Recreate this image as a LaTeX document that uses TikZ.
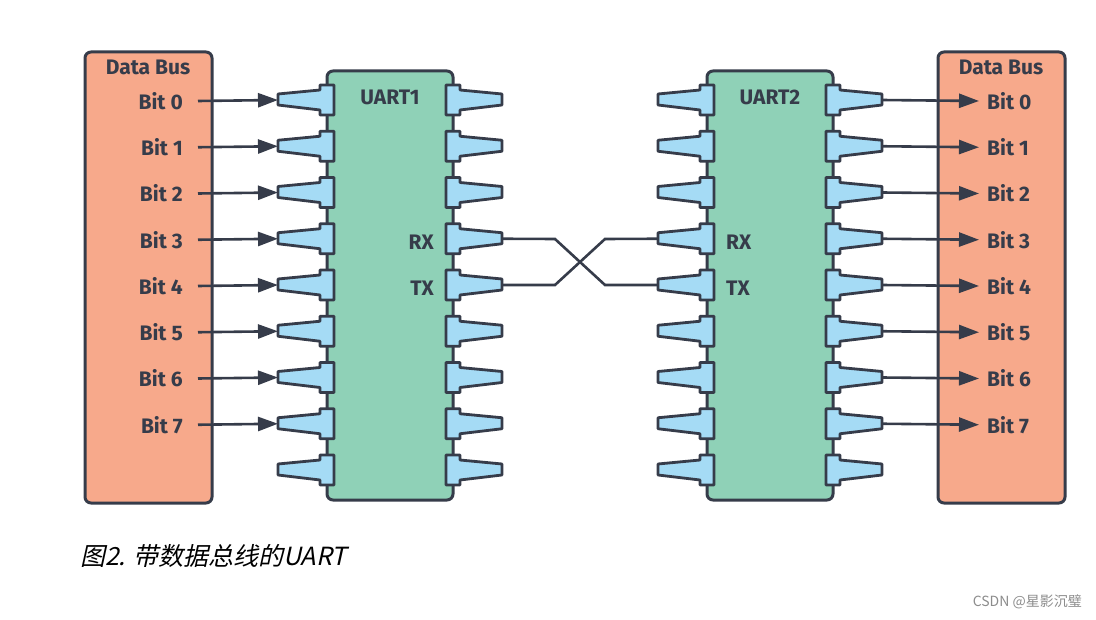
\documentclass[tikz,border=0pt]{standalone}
\usepackage{fontspec}
\setmainfont{Fira Sans}
\newfontfamily\cjk{Noto Sans CJK SC}
\usetikzlibrary{arrows.meta}
\definecolor{busorange}{HTML}{F7A98B}
\definecolor{chipgreen}{HTML}{8FD1B7}
\definecolor{pinblue}{HTML}{A5DBF5}
\definecolor{ink}{HTML}{363C4A}
\tikzset{
  bus/.style={draw=ink, line width=3pt, fill=busorange, rounded corners=6pt},
  chip/.style={draw=ink, line width=3pt, fill=chipgreen, rounded corners=6pt},
  lbl/.style={text=ink, font=\bfseries\fontsize{21}{21}\selectfont, inner sep=0pt},
  wire/.style={draw=ink, line width=2.6pt},
  sig/.style={wire, -{Triangle[length=20pt, width=14pt]}},
  pin/.pic={
    \draw[draw=ink, line width=2.8pt, fill=pinblue, line join=round]
      (7,-15) -- (7,15) -- (-7,15) -- (-7,10) -- (-49,5) -- (-49,-6) -- (-7,-10) -- (-7,-15) -- cycle;
    \coordinate (-tip) at (-49,0);
  }
}
\begin{document}
\begin{tikzpicture}[x=1pt, y=-1pt]
  \useasboundingbox (0,0) rectangle (1096,620);

  % Data buses and chips
  \draw[bus] (85,52) rectangle (212,503);
  \draw[bus] (938,52) rectangle (1065,503);
  \draw[chip] (327,71) rectangle (453,500);
  \draw[chip] (707,71) rectangle (833,500);

  % Pins
  \foreach \i in {0,...,8} {
    \pic (a\i) at (327,{100+46.25*\i}) {pin};
    \pic[xscale=-1] (b\i) at (453,{100+46.25*\i}) {pin};
    \pic (c\i) at (707,{100+46.25*\i}) {pin};
    \pic[xscale=-1] (d\i) at (833,{100+46.25*\i}) {pin};
  }

  % Labels
  \node[lbl] (busl) at (148,67) {Data Bus};
  \node[lbl] (busr) at (1001,67) {Data Bus};
  \node[lbl] (uart1) at (390,97) {UART1};
  \node[lbl] (uart2) at (770,97) {UART2};
  \node[lbl, anchor=east] (rx1) at (434,242) {RX};
  \node[lbl, anchor=east] (tx1) at (434,288) {TX};
  \node[lbl, anchor=west] (rx2) at (726,242) {RX};
  \node[lbl, anchor=west] (tx2) at (726,288) {TX};

  % Data lines
  \foreach \i in {0,...,7} {
    \node[lbl, anchor=east] (bl\i) at (183,{101+46.25*\i}) {Bit \i};
    \node[lbl, anchor=west] (br\i) at (987,{101+46.25*\i}) {Bit \i};
    \draw[sig] ([xshift=15pt]bl\i.east) -- (a\i-tip);
    \draw[sig] (d\i-tip) -- ([xshift=-8pt]br\i.west);
  }

  % Cross-over
  \draw[wire] (b3-tip) -- (555,239) -- (605,285) -- (c4-tip);
  \draw[wire] (b4-tip) -- (555,285) -- (605,239) -- (c3-tip);

  % Caption
  \node[anchor=west, text=black, font=\cjk\fontsize{25}{25}\selectfont, inner sep=0pt, xslant=0.22, transform shape] (cap) at (82,556) {图2. 带数据总线的UART};
  \node[anchor=east, text=black!45, font=\cjk\fontsize{14}{14}\selectfont, inner sep=0pt] (wm) at (1082,602) {CSDN @星影沉璧};
\end{tikzpicture}
\end{document}
